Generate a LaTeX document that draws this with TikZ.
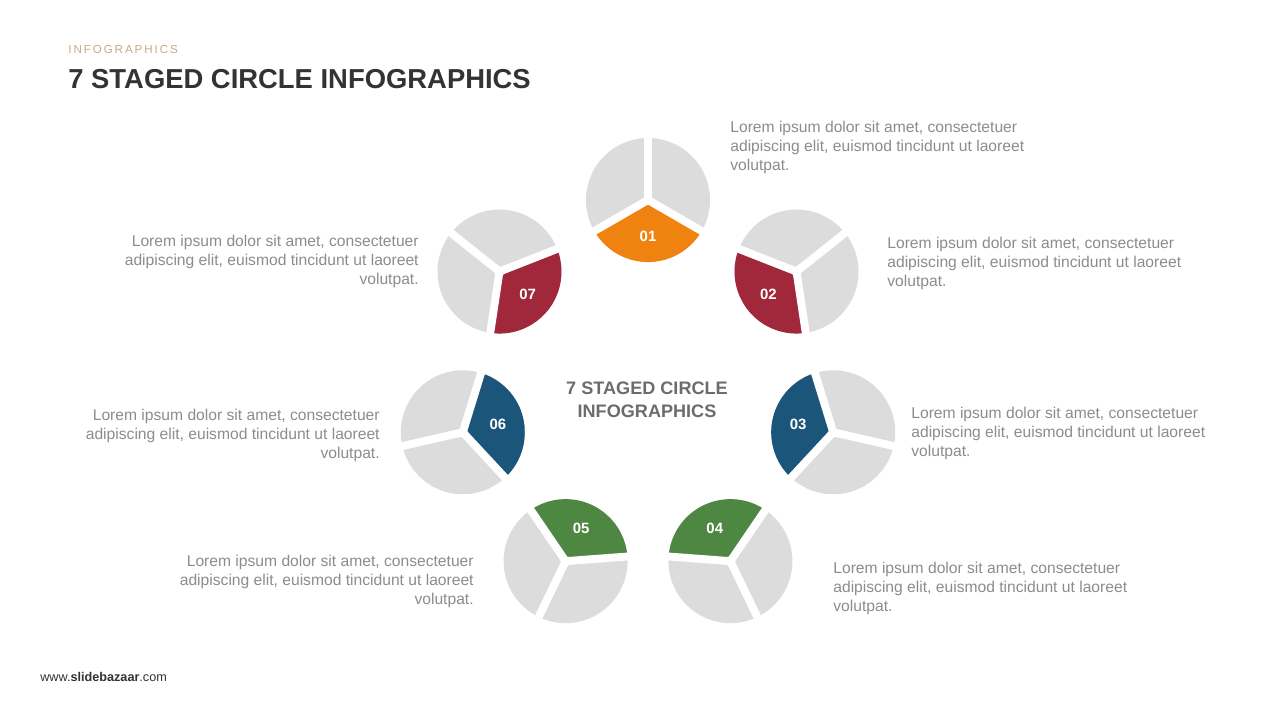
\documentclass[tikz,border=0pt]{standalone}
\usepackage{fontspec}
\setmainfont{Liberation Sans}
\usetikzlibrary{positioning,calc}
\definecolor{stageorange}{RGB}{240,130,15}
\definecolor{stagered}{RGB}{160,40,58}
\definecolor{stageblue}{RGB}{27,85,122}
\definecolor{stagegreen}{RGB}{78,135,66}
\definecolor{segmentgrey}{RGB}{220,220,220}
\definecolor{bodygrey}{RGB}{140,140,140}
\definecolor{titlegrey}{RGB}{51,51,51}
\definecolor{tan}{RGB}{200,168,130}
\tikzset{
  lorem/.style={text=bodygrey, font=\fontsize{8.9}{10.8}\selectfont, inner sep=0pt},
  num/.style={text=white, font=\bfseries\fontsize{8.5}{10}\selectfont},
  divider/.style={white, line width=4.5pt}
}
\begin{document}
\begin{tikzpicture}[x=0.02cm, y=0.02cm]
    \useasboundingbox (0,0) rectangle (1280,720);
    % Header
    \node[anchor=west, text=tan, font=\fontsize{6.6}{8}\selectfont, inner sep=0pt] (kicker) at (68,670) {I\,N\,F\,O\,G\,R\,A\,P\,H\,I\,C\,S};
    \node[anchor=west, text=titlegrey, font=\bfseries\fontsize{15.6}{18}\selectfont, inner sep=0pt] (title) at (68,641) {7 STAGED CIRCLE INFOGRAPHICS};
    \node[anchor=west, text=titlegrey, font=\fontsize{7.2}{9}\selectfont, inner sep=0pt] (footer) at (40,43) {www.\textbf{slidebazaar}.com};

    % Center label
    \node[align=center, text=gray!85!black, font=\bfseries\fontsize{10.3}{13}\selectfont] (hub) at (647,320) {7 STAGED CIRCLE\\INFOGRAPHICS};

    % Circles
    \foreach \i/\ang/\col in {1/90/stageorange, 2/38.57/stagered, 3/-12.86/stageblue, 4/-64.29/stagegreen,
                              5/-115.71/stagegreen, 6/-167.14/stageblue, 7/141.43/stagered} {
        \coordinate (c\i) at ($(648,330)+(\ang:3.8cm)$);
        \fill[segmentgrey] (c\i) circle[radius=1.24cm];
        \fill[\col] (c\i) -- ++(\ang+120:1.24cm) arc[start angle=\ang+120, end angle=\ang+240, radius=1.24cm] -- cycle;
        \foreach \d in {0,120,240}
            \draw[divider] (c\i) -- ++(\ang+\d:1.3cm);
        \fill[white] (c\i) circle[radius=0.1cm];
        \node[num] (n\i) at ($(c\i)+(\ang+180:0.72cm)$) {0\i};
    }

    % Descriptions
    \node[lorem, anchor=north west, align=left] (t1) at (730,599) {Lorem ipsum dolor sit amet, consectetuer\\adipiscing elit, euismod tincidunt ut laoreet\\volutpat.};
    \node[lorem, anchor=north west, align=left] (t2) at (887,483) {Lorem ipsum dolor sit amet, consectetuer\\adipiscing elit, euismod tincidunt ut laoreet\\volutpat.};
    \node[lorem, anchor=north west, align=left] (t3) at (911,313) {Lorem ipsum dolor sit amet, consectetuer\\adipiscing elit, euismod tincidunt ut laoreet\\volutpat.};
    \node[lorem, anchor=north west, align=left] (t4) at (833,158) {Lorem ipsum dolor sit amet, consectetuer\\adipiscing elit, euismod tincidunt ut laoreet\\volutpat.};
    \node[lorem, anchor=north east, align=right] (t5) at (474,165) {Lorem ipsum dolor sit amet, consectetuer\\adipiscing elit, euismod tincidunt ut laoreet\\volutpat.};
    \node[lorem, anchor=north east, align=right] (t6) at (380,311) {Lorem ipsum dolor sit amet, consectetuer\\adipiscing elit, euismod tincidunt ut laoreet\\volutpat.};
    \node[lorem, anchor=north east, align=right] (t7) at (419,485) {Lorem ipsum dolor sit amet, consectetuer\\adipiscing elit, euismod tincidunt ut laoreet\\volutpat.};
\end{tikzpicture}
\end{document}
